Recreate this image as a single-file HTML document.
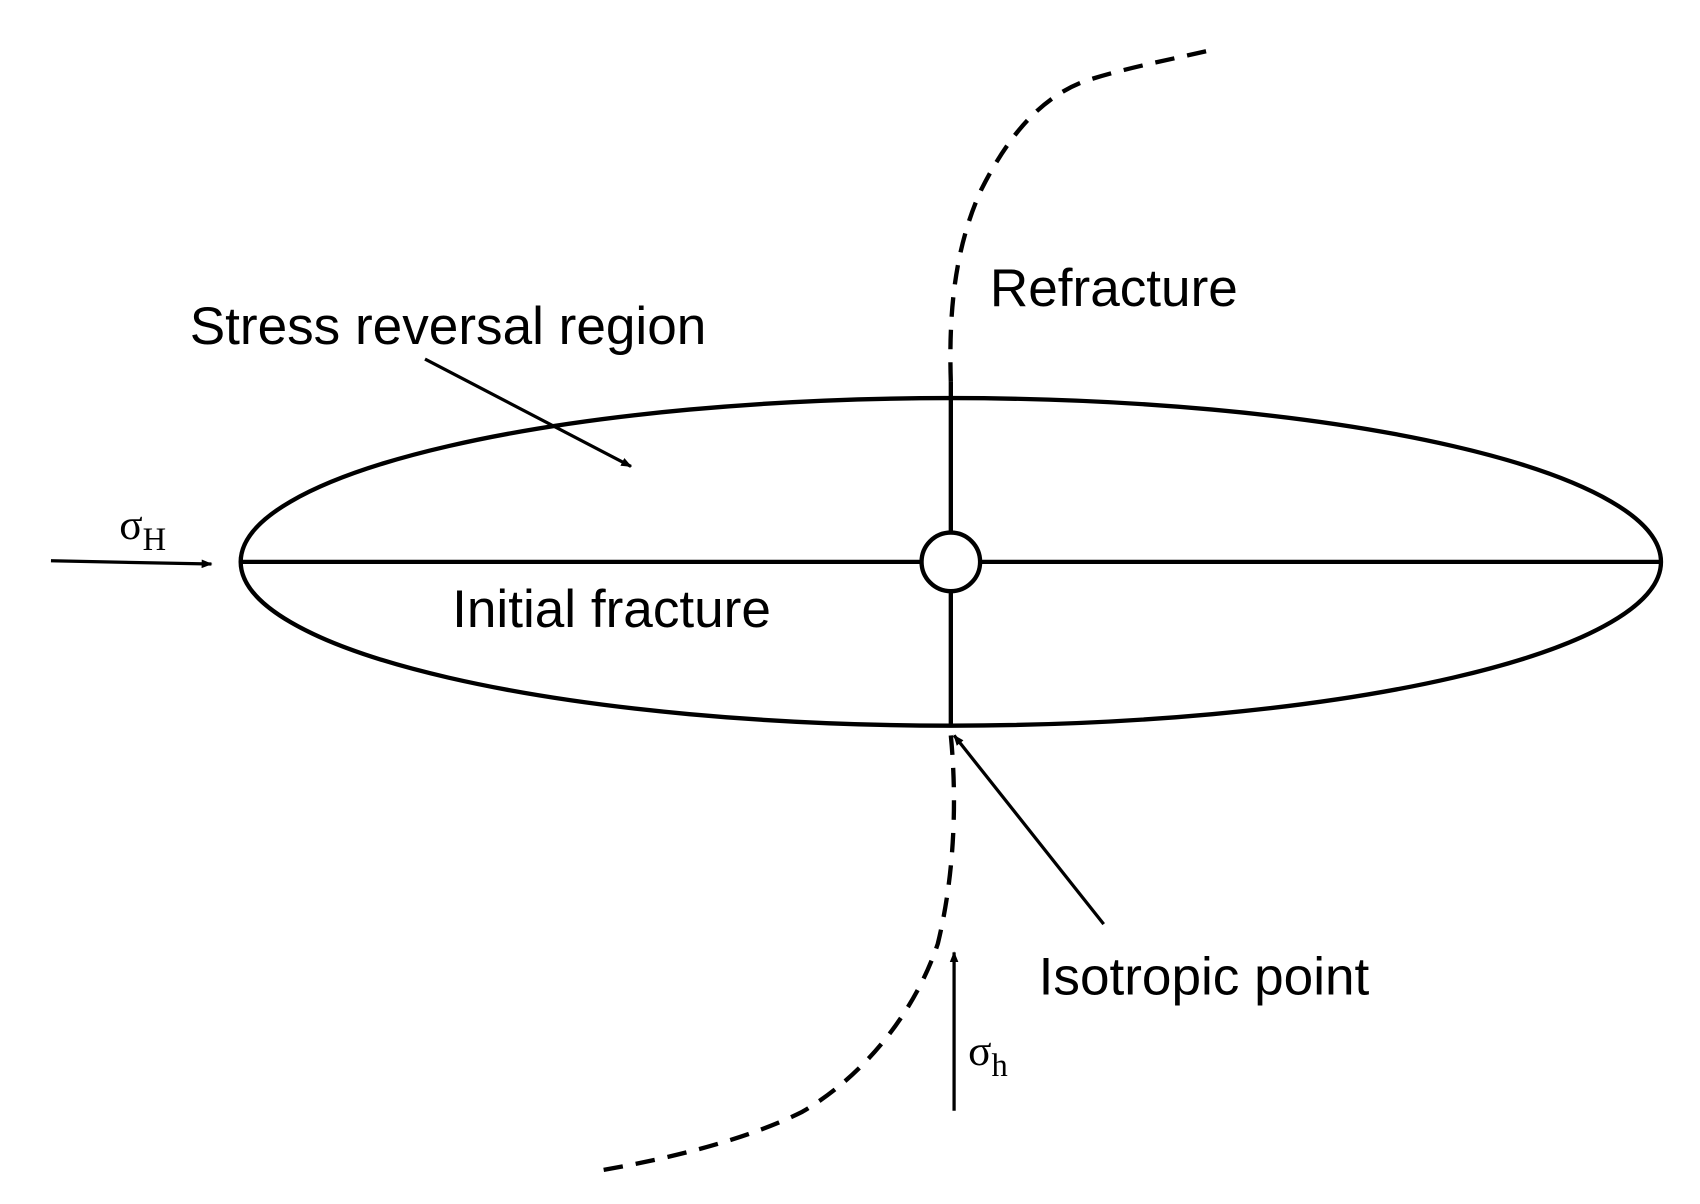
<!DOCTYPE html>
<html><head><style>html,body{margin:0;padding:0;background:#fff}svg{display:block}</style></head><body>
<svg width="1700" height="1204" viewBox="0 0 1568 1110" preserveAspectRatio="none" xmlns="http://www.w3.org/2000/svg">
<defs><marker id="a" markerWidth="10" markerHeight="8" refX="9" refY="4" orient="auto" markerUnits="userSpaceOnUse"><path d="M0,0 L10,4 L0,8 z" fill="#000"/></marker></defs>
<g stroke="#000" fill="none" stroke-width="4">
<ellipse cx="877" cy="518" rx="655" ry="151"/>
<line x1="222" y1="518" x2="849" y2="518"/>
<line x1="905" y1="518" x2="1532" y2="518"/>
<circle cx="877" cy="518" r="27"/>
<line x1="877" y1="352" x2="877" y2="491"/>
<line x1="877" y1="545" x2="877" y2="669"/>
<path d="M877,352 C875,290 880,230 905,175 C930,125 960,90 1000,75 C1040,62 1080,55 1122,45" stroke-dasharray="18,12"/>
<path d="M877,678 C882,730 882,800 865,870 C845,930 800,990 740,1025 C690,1050 620,1068 548,1080" stroke-dasharray="18,12"/>
</g>
<g stroke="#000" stroke-width="3" fill="none">
<line x1="47" y1="517" x2="195" y2="520" marker-end="url(#a)"/>
<line x1="880" y1="1024" x2="880" y2="878" marker-end="url(#a)"/>
<line x1="392" y1="331" x2="582" y2="430" marker-end="url(#a)"/>
<line x1="1018" y1="852" x2="880" y2="678" marker-end="url(#a)"/>
</g>
<g font-family="Liberation Sans, sans-serif" font-size="49" fill="#000">
<text x="175" y="317">Stress reversal region</text>
<text x="913" y="282">Refracture</text>
<text x="417" y="578">Initial fracture</text>
<text x="958" y="917">Isotropic point</text>
</g>
<g font-family="Liberation Serif, serif" fill="#000">
<text x="110" y="497" font-size="40">σ<tspan font-size="30" dy="10">H</tspan></text>
<text x="893" y="982" font-size="40">σ<tspan font-size="30" dy="10">h</tspan></text>
</g>
</svg>
</body></html>
